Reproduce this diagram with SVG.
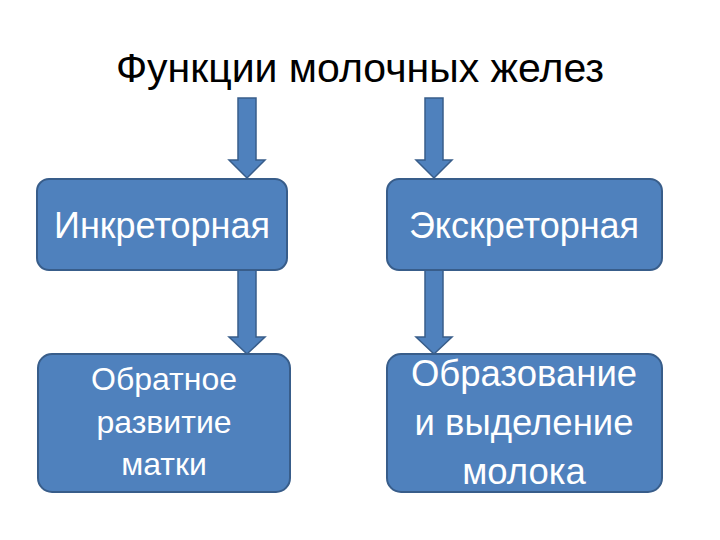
<svg xmlns="http://www.w3.org/2000/svg" width="720" height="540" viewBox="0 0 720 540">
<style>
.box{fill:#4f81bd;stroke:#385d8a;stroke-width:2}
.arr{fill:#4f81bd;stroke:#385d8a;stroke-width:1.5}
.t{font-family:"Liberation Sans","Noto Sans",sans-serif;fill:#ffffff;text-anchor:middle}
.title{font-family:"Liberation Sans","Noto Sans",sans-serif;fill:#000000;text-anchor:middle;font-size:41px}
</style>
<rect width="720" height="540" fill="#ffffff"/>
<text class="title" x="360" y="82">Функции молочных желез</text>
<g id="connectors">
<polygon class="arr" points="238,98 256,98 256,160 265,160 247,178 229,160 238,160"/>
<polygon class="arr" points="425,98 443,98 443,160 452,160 434,178 416,160 425,160"/>
<polygon class="arr" points="238,270 256,270 256,337 265,337 247,354 229,337 238,337"/>
<polygon class="arr" points="425,270 443,270 443,337 452,337 434,354 416,337 425,337"/>
</g>
<g id="n1">
<rect class="box" x="37" y="179" width="250" height="91" rx="12"/>
<text class="t" x="162" y="238" font-size="36">Инкреторная</text>
</g>
<g id="n2">
<rect class="box" x="387" y="179" width="275" height="91" rx="12"/>
<text class="t" x="524" y="238" font-size="36">Экскреторная</text>
</g>
<g id="n3">
<rect class="box" x="38" y="354" width="252" height="138" rx="14"/>
<text class="t" x="164" y="390" font-size="32">Обратное</text>
<text class="t" x="164" y="433" font-size="32">развитие</text>
<text class="t" x="164" y="475" font-size="32">матки</text>
</g>
<g id="n4">
<rect class="box" x="387" y="354" width="275" height="138" rx="14"/>
<text class="t" x="524" y="386" font-size="36.5">Образование</text>
<text class="t" x="524" y="435" font-size="36.5">и выделение</text>
<text class="t" x="524" y="484" font-size="36.5">молока</text>
</g>
</svg>
